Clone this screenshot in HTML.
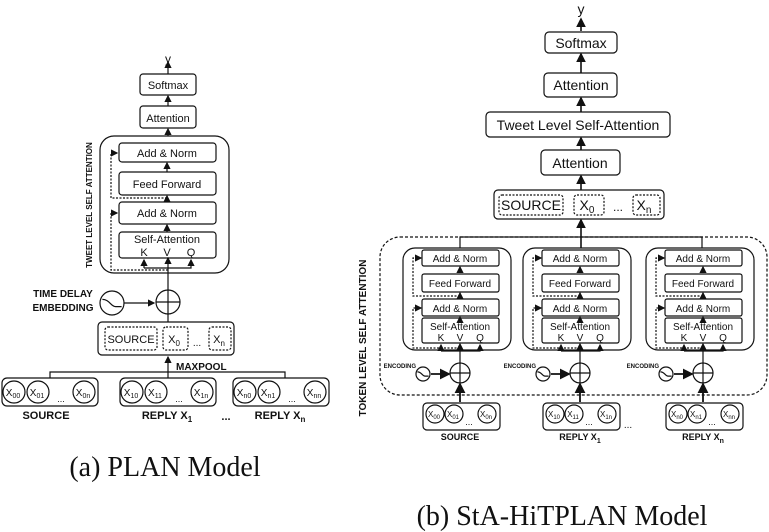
<!DOCTYPE html>
<html><head><meta charset="utf-8"><style>
body{margin:0;background:#fff}
svg{display:block}
text{font-family:"Liberation Sans",Arial,sans-serif;fill:#111}
.b{font-weight:bold}
.s{font-family:"Liberation Serif",serif}
</style></head><body>
<svg id="s" width="769" height="532" viewBox="0 0 769 532" xmlns="http://www.w3.org/2000/svg">
<defs><marker id="a" markerWidth="6" markerHeight="6" refX="5" refY="3" orient="auto"><path d="M0,0 L6,3 L0,6z" fill="#111"/></marker></defs>
<g id="g" stroke="#111" fill="none" stroke-width="1.2"></g>
<g id="t"></g>
</svg>
<script>
const G=document.getElementById('g'),T=document.getElementById('t');
const NS='http://www.w3.org/2000/svg';
function el(p,tag,at,txt){const e=document.createElementNS(NS,tag);for(const k in at)e.setAttribute(k,at[k]);if(txt!==undefined)e.innerHTML=txt;p.appendChild(e);return e;}
function R(x,y,w,h,r,dash,sw){el(G,'rect',{x,y,width:w,height:h,rx:r||3,'stroke-dasharray':dash||'none','stroke-width':sw||1.2});}
function L(x1,y1,x2,y2,arr,dash,sw){const a={x1,y1,x2,y2,'stroke-width':sw||1.2};if(arr)a['marker-end']='url(#a)';if(dash)a['stroke-dasharray']=dash;el(G,'line',a);}
function P(d,arr,dash){const a={d};if(arr)a['marker-end']='url(#a)';if(dash)a['stroke-dasharray']=dash;el(G,'path',a);}
function C(cx,cy,r){el(G,'circle',{cx,cy,r});}
function Tx(x,y,s,fs,cls,anchor){el(T,'text',{x,y,'font-size':fs,'class':cls||'','text-anchor':anchor||'middle'},s);}
function plus(cx,cy,r){C(cx,cy,r);L(cx-r,cy,cx+r,cy);L(cx,cy-r,cx,cy+r);}
function wave(cx,cy,r){C(cx,cy,r);P(`M${cx-r*0.8},${cy-r*0.3} C${cx-r*0.2},${cy-r*0.3} ${cx-r*0.1},${cy+r*0.3} ${cx+r*0.3},${cy+r*0.3} L${cx+r*0.8},${cy+r*0.3}`);}

// ===== LEFT (a)
Tx(168,63,'y',12);
L(168,74,168,62,true);
R(140,74,56,21,3);Tx(168,89,'Softmax',11);
L(168,106,168,96,true);
R(140,106,56,22,3);Tx(168,122,'Attention',11);
L(168,136,168,129,true);
R(100,136,129,137,14);
R(119,143,97,19,3);Tx(167,157,'Add &amp; Norm',11);
L(167,172,167,163,true);
R(119,172,97,23,3);Tx(167,188,'Feed Forward',11);
L(167,202,167,196,true);
R(119,202,97,22,3);Tx(167,217,'Add &amp; Norm',11);
L(167,232,167,225,true);
R(119,232,97,26,3);Tx(167,243,'Self-Attention',11);
Tx(144,256,'K',11);Tx(167,256,'V',11);Tx(191,256,'Q',11);
L(168,290,168,258,true);
P('M144,268 L144,260',true);P('M144,268 L191,268 L191,260',true);
P('M168,270 L111,270 L111,213 L117,213',true,'2,1.5');
P('M167,198 L111,198 L111,153 L117,153',true,'2,1.5');
plus(168,302,12);
wave(112,303,12);L(124,303,154,303,true);
Tx(63,297,'TIME DELAY',10,'b');Tx(63,311,'EMBEDDING',10,'b');
L(168,322,168,314);
R(98,322,136,33,4);
R(105,327,52,23,3,'2,1.5');Tx(131,343,'SOURCE',11);
R(163,327,25,23,3,'2,1.5');Tx(174,343,'X<tspan font-size="8" dy="3">0</tspan>',11);
Tx(197,346,'...',10);
R(209,327,22,23,3,'2,1.5');Tx(219,343,'X<tspan font-size="8" dy="3">n</tspan>',11);
L(168,378,168,357,true);
Tx(176,370,'MAXPOOL',10,'b','start');
P('M50,378 L50,372 L285,372 L285,378');
const lb=[[2,'0','SOURCE',46],[120,'1','REPLY X',167],[233,'n','REPLY X',280]];
lb.forEach(([x,i,lab,cx])=>{R(x,378,96,28,5);
 const subs=[i+'0',i+'1',i=='n'?'nn':i+'n'];
 [[x+12,subs[0]],[x+36,subs[1]],[x+82,subs[2]]].forEach(([c,s])=>{C(c,392,11);Tx(c-1,396,'X<tspan font-size="7" dy="2">'+s+'</tspan>',10);});
 Tx(x+59,402,'...',9);
 Tx(cx,419,lab+(lab=='SOURCE'?'':'<tspan font-size="8" dy="3">'+i+'</tspan>'),11,'b');});
Tx(226,420,'...',11,'b');
el(T,'text',{x:92,y:205,'font-size':8,'class':'b','text-anchor':'middle',transform:'rotate(-90 92 205)'},'TWEET LEVEL SELF ATTENTION');
Tx(165,476,'(a) PLAN Model',28,'s');

// ===== RIGHT (b)
Tx(581,14,'y',14);
L(581,31,581,19,true,null,1.6);
R(545,32,72,21,4);Tx(581,48,'Softmax',14);
L(581,73,581,54,true,null,1.6);
R(544,73,73,24,4);Tx(581,90,'Attention',14);
L(581,112,581,98,true,null,1.6);
R(486,112,184,25,4);Tx(578,130,'Tweet Level Self-Attention',14);
L(581,150,581,138,true,null,1.6);
R(541,150,79,25,4);Tx(580,168,'Attention',14);
L(581,190,581,176,true,null,1.6);
R(494,190,170,29,4);
R(499,195,64,20,3,'2,1.5');Tx(531,210,'SOURCE',14);
R(574,195,30,20,3,'2,1.5');Tx(587,210,'X<tspan font-size="10" dy="3">0</tspan>',14);
Tx(618,211,'...',12);
R(633,195,27,20,3,'2,1.5');Tx(644,210,'X<tspan font-size="10" dy="3">n</tspan>',14);
L(581,248,581,220,true,null,1.6);
P('M460,248 L460,237 L702,237 L702,248');
R(380,237,387,158,20,'3,2');
el(T,'text',{x:366,y:338,'font-size':10,'class':'b','text-anchor':'middle',transform:'rotate(-90 366 338)'},'TOKEN LEVEL SELF ATTENTION');
const blocks=[[403,'0','SOURCE',true],[523,'1','REPLY X'],[646,'n','REPLY X']];
blocks.forEach(([bx,i,lab,src])=>{
 const cx=bx+57, lx=bx+19;
 R(bx,248,108,102,12);
 R(lx,250,77,16,2);Tx(lx+38,262,'Add &amp; Norm',10);
 L(cx,273,cx,267,true);
 R(lx,274,77,18,2);Tx(lx+38,287,'Feed Forward',10);
 L(cx,299,cx,293,true);
 R(lx,299,77,17,2);Tx(lx+38,312,'Add &amp; Norm',10);
 L(cx,318,cx,317,true);
 R(lx,318,77,25,2);Tx(lx+38,330,'Self-Attention',10);
 Tx(lx+19,341,'K',10);Tx(cx,341,'V',10);Tx(lx+58,341,'Q',10);
 L(cx,363,cx,344,true);
 P(`M${lx+19},${351} L${lx+19},${345}`,true);P(`M${lx+19},351 L${lx+58},351 L${lx+58},345`,true);
 P(`M${cx},348 L${lx-9},348 L${lx-9},308 L${lx-1},308`,true,'2,1.5');
 P(`M${cx},296 L${lx-9},296 L${lx-9},258 L${lx-1},258`,true,'2,1.5');
 plus(cx,373,10);wave(bx+20,374,7);
 L(bx+28,374,cx-11,374,true,null,1.8);
 Tx(bx+13,368,'ENCODING',6,'b','end');
 L(cx,402,cx,384,true,null,1.8);
 R(bx+20,403,77,27,4);
 const s=[i+'0',i+'1',i=='n'?'nn':i+'n'];
 [[bx+32,s[0]],[bx+51,s[1]],[bx+84,s[2]]].forEach(([c,ss])=>{C(c,414,9);Tx(c-1,417,'X<tspan font-size="6" dy="2">'+ss+'</tspan>',8);});
 Tx(bx+66,425,'...',9);
 Tx(cx,440,lab+(src?'':'<tspan font-size="7" dy="3">'+i+'</tspan>'),9,'b');
});
Tx(628,428,'...',10);
Tx(562,525,'(b) StA-HiTPLAN Model',28,'s');
</script>
</body></html>
